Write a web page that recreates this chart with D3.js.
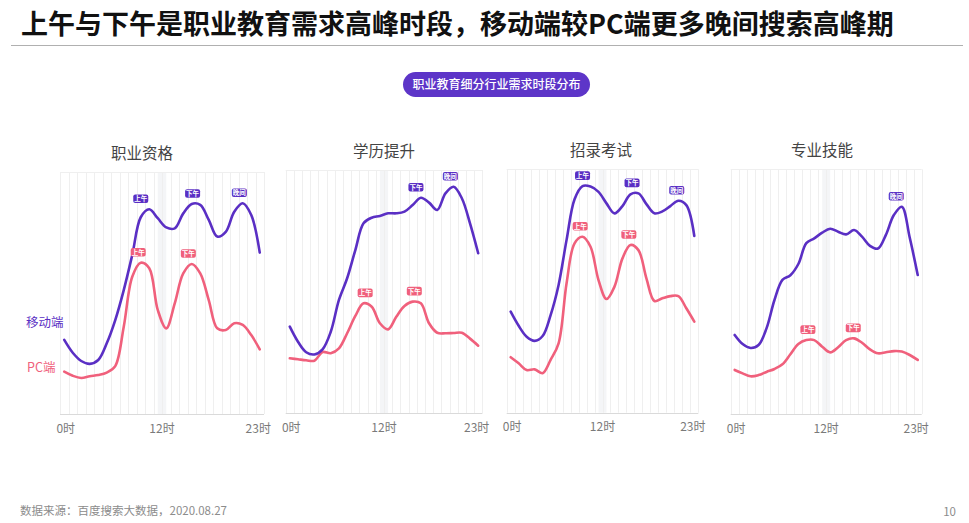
<!DOCTYPE html>
<html><head><meta charset="utf-8">
<script src="https://cdn.jsdelivr.net/npm/d3@7/dist/d3.min.js"></script>
<style>
html,body{margin:0;padding:0;background:#fff;}
svg{display:block;font-family:"Noto Sans CJK SC","Noto Sans",sans-serif;}
</style></head>
<body><svg id="c" width="969" height="523"></svg>
<script>
// ---------- data ----------
const mainTitle = "上午与下午是职业教育需求高峰时段，移动端较PC端更多晚间搜索高峰期";
const subTitle = "职业教育细分行业需求时段分布";
const footNote = "数据来源：百度搜索大数据，2020.08.27";
const pageNo = "10";
const seriesNames = ["移动端", "PC端"];
const panelTitles = ["职业资格", "学历提升", "招录考试", "专业技能"];
const hours = [0,1,2,3,4,5,6,7,8,9,10,11,12,13,14,15,16,17,18,19,20,21,22,23];
const tickHours = [0, 11.5, 23];
const tickLabels = ["0时", "12时", "23时"];

// relative search index (0-100) per hour
const mobile1 = [30.6,25.3,21.9,20.7,22.3,29.2,38.8,51.2,65.7,81.3,84.6,80.9,77.1,76.7,82.9,86.8,86.4,80.2,73.3,75.3,83.6,87.1,82.2,66.7];
const pc1     = [17.5,15.8,14.9,15.6,16.1,17.1,19.8,36.1,56.7,62.5,60.2,43.0,35.4,45.7,58.1,62.0,58.1,47.1,35.4,34.7,37.5,36.8,32.6,26.7];
const mobile2 = [35.6,29.4,25.1,24.2,26.3,33.5,46.6,55.5,67.1,78.1,80.4,81.1,82.2,82.2,82.9,85.6,88.6,86.6,83.6,90.4,93.1,88.4,78.1,65.8];
const pc2     = [22.6,22.2,21.8,21.6,25.2,24.7,26.7,32.9,40.0,45.2,43.8,37.0,34.5,39.7,44.1,45.9,45.2,37.0,33.1,32.9,33.0,33.1,30.7,27.8];
const mobile3 = [41.5,35.7,31.2,29.5,31.5,40.1,52.5,71.0,87.7,93.1,92.9,90.7,86.0,81.9,84.9,89.7,90.1,85.7,81.9,82.7,84.9,87.1,85.3,72.6];
const pc3     = [22.8,20.3,17.5,17.8,16.2,21.7,28.5,53.2,69.6,72.3,68.2,54.5,46.7,51.8,63.4,68.9,66.8,55.2,45.9,47.0,47.9,47.9,42.9,37.4];
const mobile4 = [32.3,28.6,27.0,28.2,35.0,46.6,54.8,56.7,61.3,69.8,71.8,74.1,75.7,74.5,73.4,75.2,72.5,68.7,67.6,73.2,81.3,84.7,72.0,56.8];
const pc4     = [18.0,16.6,15.4,15.9,17.2,18.4,20.3,24.4,28.6,30.2,30.2,27.5,25.2,27.3,30.2,30.9,29.1,26.4,24.8,25.2,25.7,25.5,24.1,22.1];

// peak badges: [series index, hour, text]
const peaks1 = [[0,9.0,"上午"],[0,15.1,"下午"],[0,20.6,"晚间"],[1,8.7,"上午"],[1,14.6,"下午"]];
const peaks2 = [[0,15.4,"下午"],[0,19.6,"晚间"],[1,9.2,"上午"],[1,15.2,"下午"]];
const peaks3 = [[0,9.0,"上午"],[0,15.2,"下午"],[0,20.8,"晚间"],[1,8.7,"上午"],[1,14.8,"下午"]];
const peaks4 = [[0,20.3,"晚间"],[1,9.2,"上午"],[1,14.9,"下午"]];

// ---------- layout ----------
const colors = ["#5a2fc4", "#f0607c"];
const layout = [
  {x0:60,    x1:264,   top:172,   bottom:414,   tx:142},
  {x0:285.7, x1:482.3, top:170,   bottom:413.3, tx:384},
  {x0:506.7, x1:698.3, top:169.3, bottom:412.7, tx:601},
  {x0:730.7, x1:921.7, top:169.3, bottom:414,   tx:822}
];
const panelData = [
  {mobile:mobile1, pc:pc1, peaks:peaks1},
  {mobile:mobile2, pc:pc2, peaks:peaks2},
  {mobile:mobile3, pc:pc3, peaks:peaks3},
  {mobile:mobile4, pc:pc4, peaks:peaks4}
];

const svg = d3.select("#c");
const crisp = v => Math.round(v) + 0.5;

// main title
svg.append("text").attr("x", 21).attr("y", 34)
  .attr("font-size", 27).attr("font-weight", 700).attr("fill", "#111")
  .text(mainTitle);
svg.append("line").attr("x1", 11).attr("x2", 963).attr("y1", 45.5).attr("y2", 45.5)
  .attr("stroke", "#b0b0b0").attr("stroke-width", 1);

// pill subtitle
const pill = svg.append("g");
pill.append("rect").attr("x", 403).attr("y", 72).attr("width", 187).attr("height", 25)
  .attr("rx", 12.5).attr("fill", "#5d35c8");
pill.append("text").attr("x", 496.5).attr("y", 89).attr("text-anchor", "middle")
  .attr("font-size", 12).attr("font-weight", 500).attr("fill", "#fff").text(subTitle);

// panels
layout.forEach((L, pi) => {
  const D = panelData[pi];
  const g = svg.append("g");
  const x = d3.scaleBand().domain(hours).range([L.x0, L.x1]).padding(0);
  const bw = x.bandwidth();
  const xc = h => L.x0 + (h + 0.5) * bw;
  const y = d3.scaleLinear().domain([0, 100]).range([L.bottom, L.top]);

  // shaded noon column
  g.append("rect").attr("x", xc(tickHours[1]) - bw / 2).attr("y", L.top)
    .attr("width", bw).attr("height", L.bottom - L.top).attr("fill", "#f4f5f7");
  // vertical grid
  const bounds = hours.map(h => x(h)).concat([L.x1]);
  g.selectAll("line.grid").data(bounds).join("line")
    .attr("x1", d => crisp(d)).attr("x2", d => crisp(d)).attr("y1", L.top).attr("y2", L.bottom)
    .attr("stroke", "#efefef").attr("stroke-width", 1);
  g.append("line").attr("x1", L.x0).attr("x2", L.x1).attr("y1", crisp(L.top)).attr("y2", crisp(L.top))
    .attr("stroke", "#efefef");
  g.append("line").attr("x1", L.x0).attr("x2", L.x1).attr("y1", crisp(L.bottom)).attr("y2", crisp(L.bottom))
    .attr("stroke", "#dadada").attr("stroke-width", 1.2);

  // tick labels
  g.selectAll("text.tick").data(tickHours).join("text")
    .attr("x", (d, i) => xc(d) + (i === 0 ? 1.5 : (i === 2 ? -1.5 : 0)))
    .attr("y", L.bottom + 18.5).attr("text-anchor", "middle")
    .attr("font-size", 12).attr("fill", "#7a7a7a")
    .text((d, i) => tickLabels[i]);

  // title
  g.append("text").attr("x", L.tx).attr("y", L.top - 13.5).attr("text-anchor", "middle")
    .attr("font-size", 15.5).attr("fill", "#444").text(panelTitles[pi]);

  const line = d3.line().x((d, i) => xc(hours[i])).y(d => y(d)).curve(d3.curveCatmullRom.alpha(0.5));
  const series = [D.mobile, D.pc];
  [1, 0].forEach(si => {
    g.append("path").attr("d", line(series[si])).attr("fill", "none")
      .attr("stroke", colors[si]).attr("stroke-width", 2.6)
      .attr("stroke-linecap", "round").attr("stroke-linejoin", "round");
  });

  // badges
  D.peaks.forEach(([si, h, txt]) => {
    const vals = series[si];
    const c = Math.round(h);
    const pv = d3.max([vals[c - 1], vals[c], vals[c + 1]].filter(v => v !== undefined));
    const cx = xc(h), cy = y(pv) - 10.5;
    const b = g.append("g");
    b.append("rect").attr("x", cx - 7.5).attr("y", cy - 4.3).attr("width", 15).attr("height", 8.6)
      .attr("rx", 2).attr("fill", colors[si]);
    b.append("text").attr("x", cx).attr("y", cy + 2.4).attr("text-anchor", "middle")
      .attr("font-size", 6.5).attr("font-weight", 700).attr("fill", "#fff").text(txt);
  });
});

// legend labels
svg.append("text").attr("x", 26).attr("y", 327).attr("font-size", 12.5)
  .attr("fill", colors[0]).text(seriesNames[0]);
svg.append("text").attr("x", 27).attr("y", 372).attr("font-size", 12.5)
  .attr("fill", colors[1]).text(seriesNames[1]);

// footer
svg.append("text").attr("x", 20).attr("y", 515).attr("font-size", 11.5)
  .attr("fill", "#8c8c8c").text(footNote);
svg.append("text").attr("x", 956).attr("y", 516).attr("text-anchor", "end").attr("font-size", 11.5)
  .attr("fill", "#8c8c8c").text(pageNo);
</script></body></html>
